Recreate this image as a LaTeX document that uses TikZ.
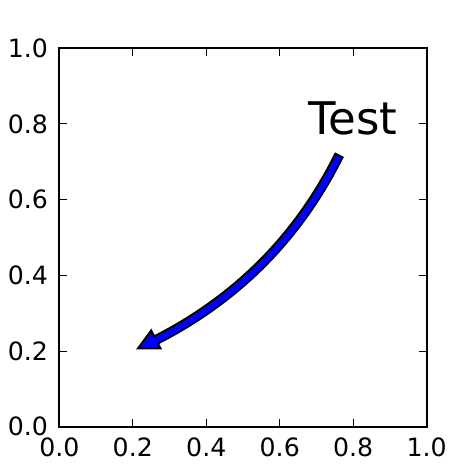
\documentclass[tikz,border=0pt]{standalone}
\usepackage{fontspec}
\setmainfont{DejaVu Sans}
\begin{document}
\begin{tikzpicture}[x=183.7pt,y=189.2pt,
  tick/.style={line width=0.5pt},
  ticklbl/.style={inner sep=0pt,font=\fontsize{12.6}{15}\selectfont},
  shaftout/.style={line width=5pt,black},
  shaftin/.style={line width=3pt,blue,shorten <=1pt}]
 \useasboundingbox (-0.1614,-0.125) rectangle (1.1287,1.1276);
 % Inward ticks on all four sides
 \foreach \v in {0.2,0.4,0.6,0.8} {
   \draw[tick] (\v,0) -- ++(0,4pt);
   \draw[tick] (\v,1) -- ++(0,-4pt);
   \draw[tick] (0,\v) -- ++(4pt,0);
   \draw[tick] (1,\v) -- ++(-4pt,0);
 }
 \draw[line width=1pt] (0,0) rectangle (1,1);
 % Tick labels
 \foreach \v/\n in {0.0/0,0.2/2,0.4/4,0.6/6,0.8/8,1.0/10} {
   \node[ticklbl,anchor=north] (xl\n) at ([yshift=-5.5pt]\v,0) {\v};
   \node[ticklbl,anchor=east] (yl\n) at ([xshift=-5.5pt]0,\v) {\v};
 }
 % Annotation with curved arrow
 \node[anchor=base,inner sep=0pt,font=\fontsize{22.5}{27}\selectfont] (test) at (0.799,0.771) {Test};
 \coordinate (tail) at (0.7623,0.7189);
 \coordinate (base) at (0.2500,0.2228);
 \coordinate (tip) at (0.2142,0.2067);
 \coordinate (barbL) at (0.2752,0.2072);
 \coordinate (barbR) at (0.2501,0.2542);
 \draw[shaftout] (tail) .. controls (0.6498,0.4985) and (0.4791,0.3331) .. (base);
 \filldraw[fill=blue,draw=black,line width=1pt,line join=miter] (tip) -- (barbL) -- (barbR) -- cycle;
 \draw[shaftin] (tail) .. controls (0.6498,0.4985) and (0.4791,0.3331) .. (base);
\end{tikzpicture}
\end{document}
